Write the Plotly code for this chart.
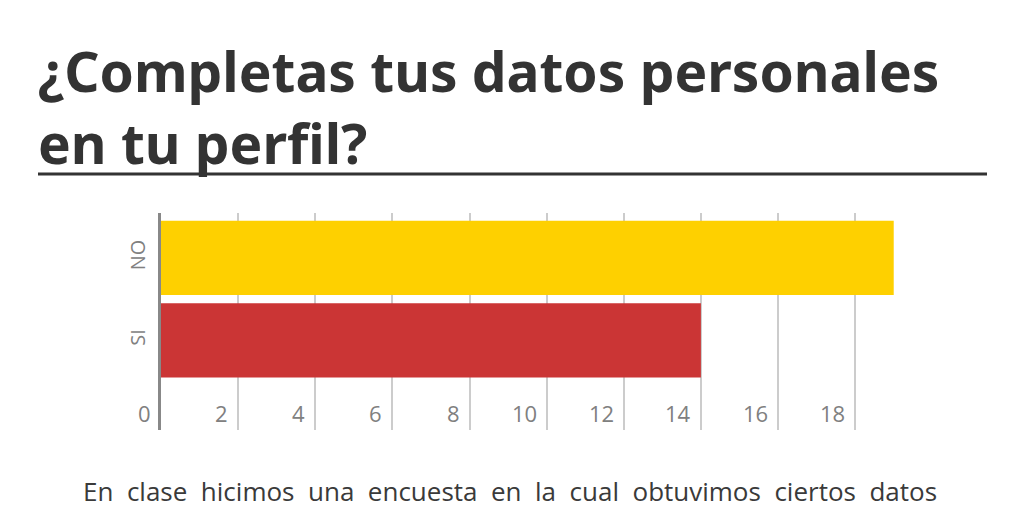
import plotly.graph_objects as go

categories = ["SI", "NO"]
values = [14, 19]
bar_colors = ["#CB3535", "#FED000"]
x_ticks = [0, 2, 4, 6, 8, 10, 12, 14, 16, 18]
title_lines = ["¿Completas tus datos personales", "en tu perfil?"]
subtitle_words = ["En", "clase", "hicimos", "una", "encuesta", "en", "la", "cual",
                  "obtuvimos", "ciertos", "datos"]

W, H = 1024, 512
L, R, T, B = 161, 111, 213, 82
pw, ph = W - L - R, H - T - B


def px_x(x):
    return (x - L) / pw


def px_y(y):
    return (H - B - y) / ph


TICK_FONT = dict(family="Open Sans, sans-serif", size=22, color="#808080")

fig = go.Figure()
fig.add_trace(go.Bar(
    y=categories, x=values, orientation="h",
    marker=dict(color=bar_colors, line=dict(width=0)),
    width=0.9, hoverinfo="skip",
))

annotations = []
# title (two lines)
annotations.append(dict(
    text="<b>" + "<br>".join(title_lines) + "</b>", xref="paper", yref="paper",
    x=px_x(36), y=px_y(31), xanchor="left", yanchor="top",
    showarrow=False, align="left",
    font=dict(family="Noto Sans, sans-serif", size=55, color="#333333")))
# x tick labels (left of gridlines, inside bottom of plot)
for v in x_ticks:
    annotations.append(dict(
        text=str(v), xref="x", yref="paper", x=v, y=px_y(413),
        xanchor="right", yanchor="middle", xshift=-8,
        showarrow=False, font=TICK_FONT))
# subtitle (justified look)
annotations.append(dict(
    text="\u00a0\u00a0".join(subtitle_words), xref="paper", yref="paper",
    x=px_x(510), y=px_y(491), xanchor="center", yanchor="middle",
    showarrow=False,
    font=dict(family="Open Sans, sans-serif", size=26, color="#3A3A3A")))

fig.update_layout(
    width=W, height=H,
    margin=dict(l=L, r=R, t=T, b=B, pad=0),
    paper_bgcolor="white", plot_bgcolor="white",
    showlegend=False,
    xaxis=dict(
        range=[0, 19.5], tickvals=x_ticks,
        showgrid=True, gridcolor="#CCCCCC", gridwidth=1.5,
        zeroline=False, showline=False, ticks="", showticklabels=False,
    ),
    yaxis=dict(
        range=[-1.085, 1.545], type="category",
        showgrid=False, zeroline=False,
        showline=True, linecolor="#888888", linewidth=3,
        ticks="", tickangle=-90, ticklabelstandoff=5,
        tickfont=dict(family="Open Sans, sans-serif", size=20, color="#808080"),
    ),
    annotations=annotations,
    shapes=[
        dict(type="line", xref="paper", yref="paper",
             x0=px_x(38), x1=px_x(987), y0=px_y(174), y1=px_y(174),
             line=dict(color="#333333", width=3)),
    ],
)
fig.write_html("out.html")
